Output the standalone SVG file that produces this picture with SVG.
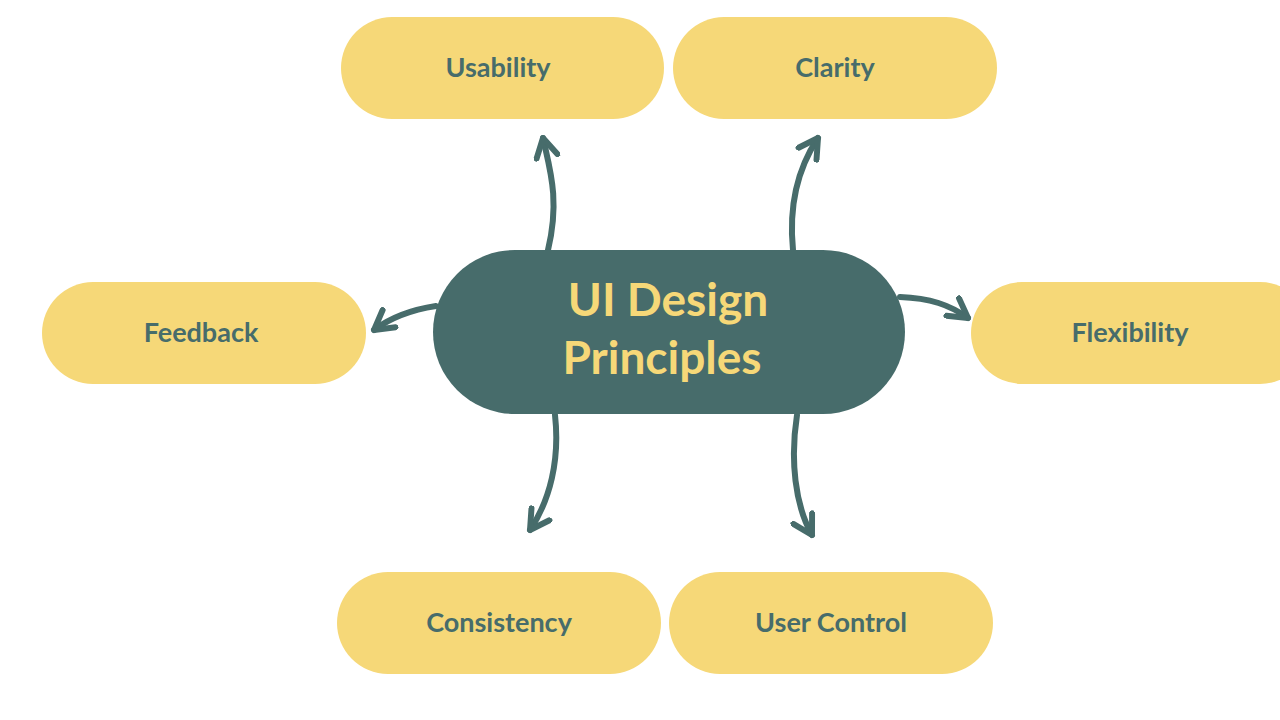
<svg xmlns="http://www.w3.org/2000/svg" width="1280" height="720" viewBox="0 0 1280 720">
<defs>
<style>
.n{fill:#F6D878}
.t{font-family:"Lato","Liberation Sans",sans-serif;font-weight:bold;font-size:27px;fill:#476C6B;text-anchor:middle}
.c{fill:none;stroke:#476C6B;stroke-width:6;stroke-linecap:round;marker-end:url(#a)}
</style>
<marker id="a" viewBox="0 0 10 10" refX="8" refY="5" markerWidth="4.5" markerHeight="4.5" orient="auto" markerUnits="strokeWidth">
<path d="M1,1 L8,5 L1,9" fill="none" stroke="#476C6B" stroke-width="2.2" stroke-linecap="round" stroke-linejoin="round"/>
</marker>
</defs>
<rect width="1280" height="720" fill="#fff"/>
<g id="connectors">
<path class="c" d="M548,250 C560,200 550,170 543,138"/>
<path class="c" d="M793,250 C788,200 800,165 818,138"/>
<path class="c" d="M436,306 C410,310 390,318 374,330"/>
<path class="c" d="M900,297 C930,298 950,305 968,318"/>
<path class="c" d="M555,415 C560,460 550,500 530,530"/>
<path class="c" d="M797,415 C790,460 795,505 812,535"/>
</g>
<g id="center"><rect x="433" y="250" width="472" height="164" rx="82" fill="#476C6B"/>
<text x="668" y="316" style="font-family:'Lato','Liberation Sans',sans-serif;font-weight:bold;font-size:46px;fill:#F6D878;text-anchor:middle">UI Design</text>
<text x="662" y="374" style="font-family:'Lato','Liberation Sans',sans-serif;font-weight:bold;font-size:46px;fill:#F6D878;text-anchor:middle">Principles</text></g>
<g id="usability"><rect class="n" x="341" y="17" width="323" height="102" rx="51"/><text class="t" x="498" y="77">Usability</text></g>
<g id="clarity"><rect class="n" x="673" y="17" width="324" height="102" rx="51"/><text class="t" x="835" y="77">Clarity</text></g>
<g id="feedback"><rect class="n" x="42" y="282" width="324" height="102" rx="51"/><text class="t" x="201" y="342">Feedback</text></g>
<g id="flexibility"><rect class="n" x="971" y="282" width="340" height="102" rx="51"/><text class="t" x="1130" y="342">Flexibility</text></g>
<g id="consistency"><rect class="n" x="337" y="572" width="324" height="102" rx="51"/><text class="t" x="499" y="632">Consistency</text></g>
<g id="usercontrol"><rect class="n" x="669" y="572" width="324" height="102" rx="51"/><text class="t" x="831" y="632">User Control</text></g>
</svg>
